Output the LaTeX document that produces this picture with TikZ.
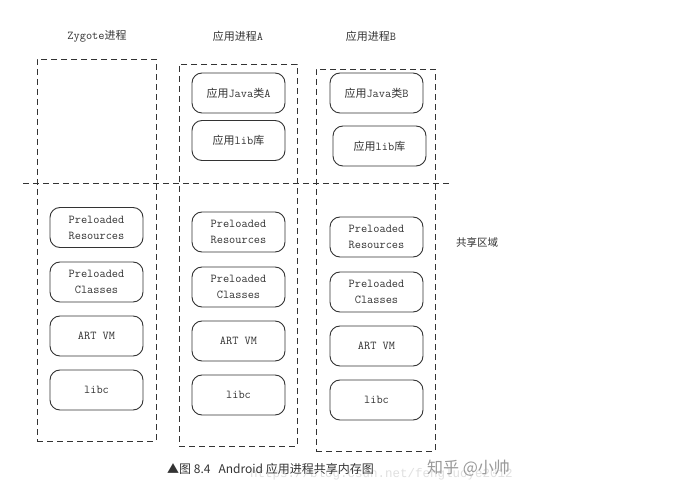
\documentclass[tikz,border=0pt]{standalone}
\usepackage{fontspec}
\newfontfamily\cj{Noto Sans CJK SC}
\newcommand{\lt}{\ttfamily\addfontfeatures{FakeStretch=0.8,FakeBold=0.6}}
\newfontfamily\wm{Liberation Mono}
\newcommand{\cjt}[1]{{\cj #1}}
\newcommand{\ltt}[1]{{\lt #1}}
\definecolor{ink}{HTML}{333333}
\begin{document}
\begin{tikzpicture}[x=1pt,y=-1pt,
  every node/.style={text=ink, inner sep=0pt},
  rbox/.style={draw=ink, line width=0.9pt, rounded corners=10pt,
    minimum width=93pt, minimum height=40pt, align=center,
    font=\fontsize{12pt}{16pt}\selectfont\lt},
  cbox/.style={rbox, font=\fontsize{11pt}{13pt}\selectfont},
  proc/.style={draw=ink, line width=0.9pt, dash pattern=on 6pt off 4pt,
    minimum width=119pt, minimum height=382pt},
  ttl/.style={font=\fontsize{11pt}{13pt}\selectfont}
]
\useasboundingbox[fill=white] (0,0) rectangle (688,494);

% process containers
\node[proc] (zyg) at (96.5,250) {};
\node[proc, minimum width=118pt] (pa) at (238,255) {};
\node[proc] (pb) at (375.5,260) {};

% titles
\node[ttl] (tz) at (97,36) {\ltt{\fontsize{12pt}{13pt}\selectfont Zygote}\cjt{进程}};
\node[ttl] (ta) at (238,36) {\cjt{应用进程}\ltt{\fontsize{12pt}{13pt}\selectfont A}};
\node[ttl] (tb) at (371,36) {\cjt{应用进程}\ltt{\fontsize{12pt}{13pt}\selectfont B}};

% shared line
\coordinate (sl) at (23,183);
\coordinate (sr) at (449,183);
\draw[draw=ink, line width=0.9pt, dash pattern=on 6pt off 4pt] (sl) -- (sr);
\node[font=\fontsize{10.5pt}{13pt}\selectfont\cj] (share) at (477,242) {共享区域};

% Zygote column
\node[rbox] (zr) at (96.5,227.5) {Preloaded\\Resources};
\node[rbox] (zc) at (96.5,282) {Preloaded\\Classes};
\node[rbox] (zv) at (96.5,336) {ART VM};
\node[rbox] (zl) at (96.5,390) {libc};

% App A column
\node[cbox] (aj) at (238.5,93) {\cjt{应用}\ltt{\fontsize{12pt}{13pt}\selectfont Java}\cjt{类}\ltt{\fontsize{12pt}{13pt}\selectfont A}};
\node[cbox] (alib) at (238.5,140.5) {\cjt{应用}\ltt{\fontsize{12pt}{13pt}\selectfont lib}\cjt{库}};
\node[rbox] (ar) at (238.5,232) {Preloaded\\Resources};
\node[rbox] (ac) at (238.5,287) {Preloaded\\Classes};
\node[rbox] (av) at (238.5,341) {ART VM};
\node[rbox] (al) at (238.5,395) {libc};

% App B column
\node[cbox] (bj) at (376.5,93) {\cjt{应用}\ltt{\fontsize{12pt}{13pt}\selectfont Java}\cjt{类}\ltt{\fontsize{12pt}{13pt}\selectfont B}};
\node[cbox] (blib) at (379.5,146) {\cjt{应用}\ltt{\fontsize{12pt}{13pt}\selectfont lib}\cjt{库}};
\node[rbox] (br) at (376.5,237) {Preloaded\\Resources};
\node[rbox] (bc) at (376.5,292) {Preloaded\\Classes};
\node[rbox] (bv) at (376.5,346) {ART VM};
\node[rbox] (bl) at (376.5,400) {libc};

% caption and watermarks
\node[text=black!12, font=\fontsize{12.5pt}{14pt}\selectfont\wm, anchor=west] (url) at (250,474) {https://blog.csdn.net/fengluoye2012};
\node[font=\fontsize{12pt}{14pt}\selectfont\cj, anchor=west] (cap) at (167,469) {▲图 8.4\hspace{8pt}Android 应用进程共享内存图};
\node[text=black!40, font=\fontsize{16pt}{18pt}\selectfont\cj, anchor=west] (wmk) at (427,468) {知乎 @小帅};
\end{tikzpicture}
\end{document}
